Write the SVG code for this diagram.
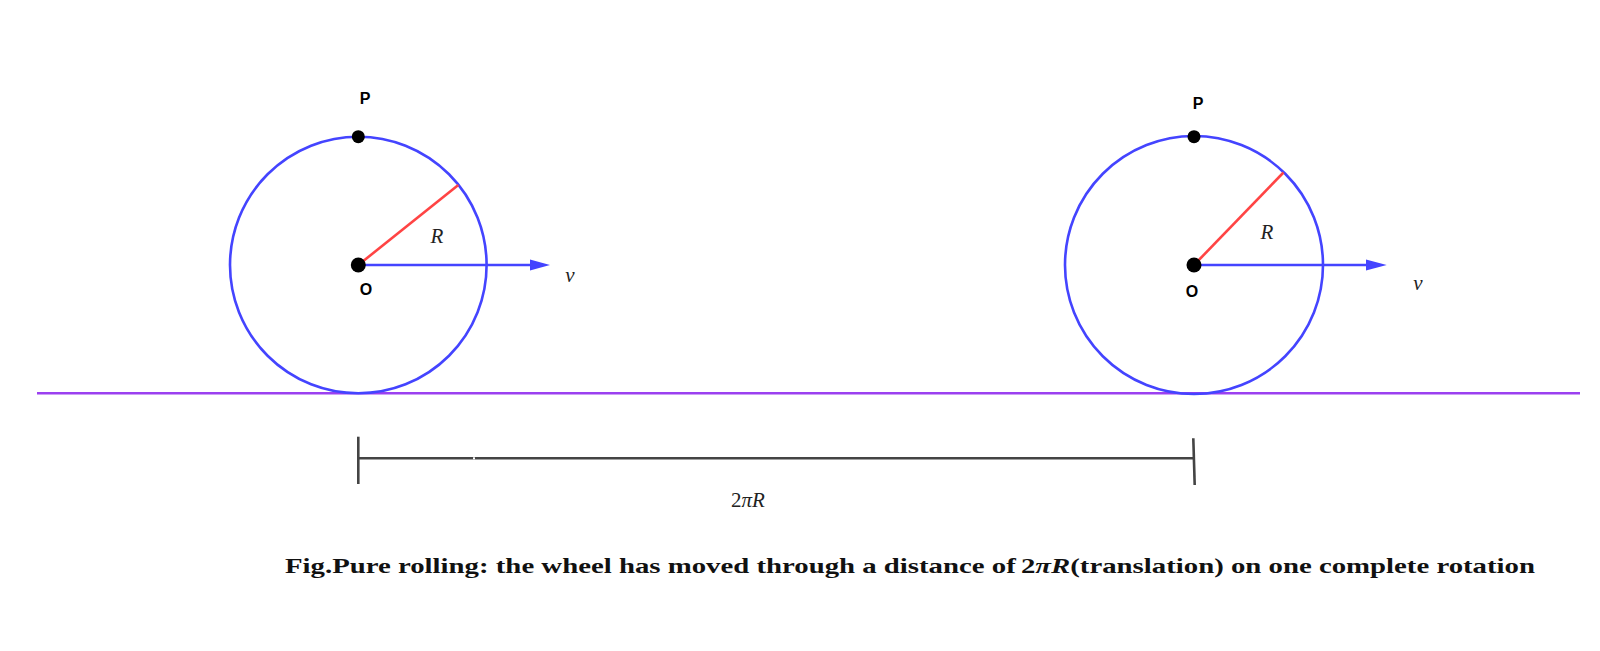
<svg xmlns="http://www.w3.org/2000/svg" width="1600" height="651" viewBox="0 0 1600 651">
<defs>
<style>
.wheel{fill:none;stroke:#4444ff;stroke-width:2.6}
.radius{stroke:#ff4444;stroke-width:2.6}
.vel{stroke:#4444ff;stroke-width:2.6}
.head{fill:#4444ff}
.dot{fill:#000}
.pt{font-family:"Liberation Sans",Arial,sans-serif;font-weight:bold;font-size:16px;fill:#000;text-anchor:middle}
.math{font-family:"Liberation Serif","Times New Roman",serif;font-style:italic;font-size:21px;fill:#222;text-anchor:middle}
.up{font-style:normal}
.bar{stroke:#444;stroke-width:2.6;fill:none}
.cap{font-family:"Liberation Serif","Times New Roman",serif;font-weight:bold;font-size:22px;fill:#111}
</style>
</defs>
<rect width="1600" height="651" fill="#fff"/>
<g id="ground"><line x1="37" y1="393.3" x2="1580" y2="393.3" stroke="#9b40f0" stroke-width="2.6"/></g>
<g id="wheel-left">
<circle class="wheel" cx="358.3" cy="265" r="128.3"/>
<line class="radius" x1="358.3" y1="265" x2="458.3" y2="185"/>
<line class="vel" x1="358.3" y1="265" x2="533" y2="265"/>
<polygon class="head" points="530,259.6 550,265 530,270.4"/>
<circle class="dot" cx="358.3" cy="265" r="7.5"/>
<circle class="dot" cx="358.3" cy="136.7" r="6.5"/>
<text class="pt" x="365" y="104">P</text>
<text class="pt" x="366" y="295">O</text>
<text class="math" x="437" y="243">R</text>
<text class="math" x="570" y="282" font-size="23">v</text>
</g>
<g id="wheel-right">
<circle class="wheel" cx="1194" cy="265" r="129"/>
<line class="radius" x1="1194" y1="265" x2="1283.5" y2="172.5"/>
<line class="vel" x1="1194" y1="265" x2="1369" y2="265"/>
<polygon class="head" points="1366,259.6 1386.7,265 1366,270.4"/>
<circle class="dot" cx="1194" cy="265" r="7.5"/>
<circle class="dot" cx="1194" cy="136.7" r="6.5"/>
<text class="pt" x="1198" y="108.5">P</text>
<text class="pt" x="1192" y="297">O</text>
<text class="math" x="1267" y="239">R</text>
<text class="math" x="1418" y="290" font-size="23">v</text>
</g>
<g id="connectors">
<line class="bar" x1="358.3" y1="458.3" x2="1194" y2="458.3"/>
<line class="bar" x1="358.3" y1="436.7" x2="358.3" y2="484"/>
<line class="bar" x1="1193.3" y1="438.3" x2="1194.7" y2="485"/>
<rect x="473" y="457.3" width="2" height="2" fill="#fff"/>
</g>
<g id="distance-label"><text class="math" x="748" y="506.7"><tspan class="up">2</tspan>πR</text></g>
<g id="caption"><text class="cap" x="285" y="573" textLength="1250" lengthAdjust="spacingAndGlyphs">Fig.Pure rolling: the wheel has moved through a distance of<tspan dx="4">2</tspan><tspan font-style="italic">πR</tspan>(translation) on one complete rotation</text></g>
</svg>
